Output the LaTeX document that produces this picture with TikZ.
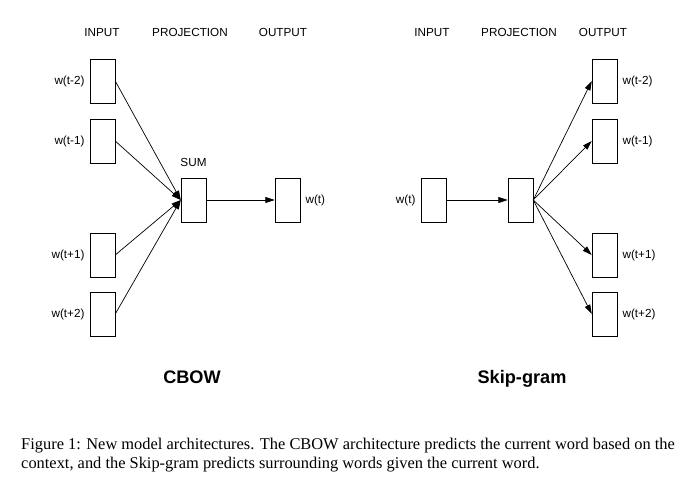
\documentclass[tikz,border=0pt]{standalone}
\usepackage{fontspec}
\setmainfont{Liberation Serif}
\newfontfamily\arial{Liberation Sans}
\usetikzlibrary{arrows.meta}
\begin{document}
\begin{tikzpicture}[x=0.03cm,y=-0.03cm,
    wbox/.style={draw,thin,minimum width=25*0.03cm,minimum height=44*0.03cm,inner sep=0pt},
    lbl/.style={font=\arial\fontsize{10}{12}\selectfont},
    arr/.style={semithick,-{Triangle[length=8pt,width=5pt]}}]
  \useasboundingbox (0,0) rectangle (686,484);
  % headers
  \foreach \x/\t in {102/INPUT,190/PROJECTION,283/OUTPUT,432/INPUT,519/PROJECTION,603/OUTPUT}
    \node[lbl,anchor=base] at (\x,37) {\t};
  % CBOW
  \foreach \n/\y/\t in {a/81/t-2,b/141/t-1,c/255/t+1,d/314/t+2}{
    \node[wbox] (in\n) at (102.5,\y) {};
    \node[lbl,left=1pt] at (in\n.west) {w(\t)};
  }
  \node[wbox] (sum) at (193.5,200) {};
  \node[lbl,above=6pt] at (sum.north) {SUM};
  \node[wbox] (out) at (287.5,200) {};
  \node[lbl,right=1pt] at (out.east) {w(t)};
  \foreach \n in {a,b,c,d}
    \draw[arr] (in\n.east) -- (sum.west);
  \draw[arr] (sum.east) -- (out.west);
  \node[font=\arial\bfseries\fontsize{15.5}{18}\selectfont,anchor=base] at (192,384) {CBOW};
  % Skip-gram
  \node[wbox] (sin) at (433.5,200) {};
  \node[lbl,left=1pt] at (sin.west) {w(t)};
  \node[wbox] (proj) at (520.5,200) {};
  \draw[arr] (sin.east) -- (proj.west);
  \foreach \n/\y/\t in {a/81/t-2,b/141/t-1,c/255/t+1,d/314/t+2}{
    \node[wbox] (so\n) at (604.5,\y) {};
    \node[lbl,right=1pt] at (so\n.east) {w(\t)};
    \draw[arr] (proj.east) -- (so\n.west);
  }
  \node[font=\arial\bfseries\fontsize{15.5}{18}\selectfont,anchor=base] at (522,384) {Skip-gram};
  % caption
  \node[anchor=north west,align=left,inner sep=0pt,font=\fontsize{14}{16.5}\selectfont] (cap) at (21,438)
    {Figure 1: New model architectures. The CBOW architecture predicts the current word based on the\\
     context, and the Skip-gram predicts surrounding words given the current word.};
\end{tikzpicture}
\end{document}
